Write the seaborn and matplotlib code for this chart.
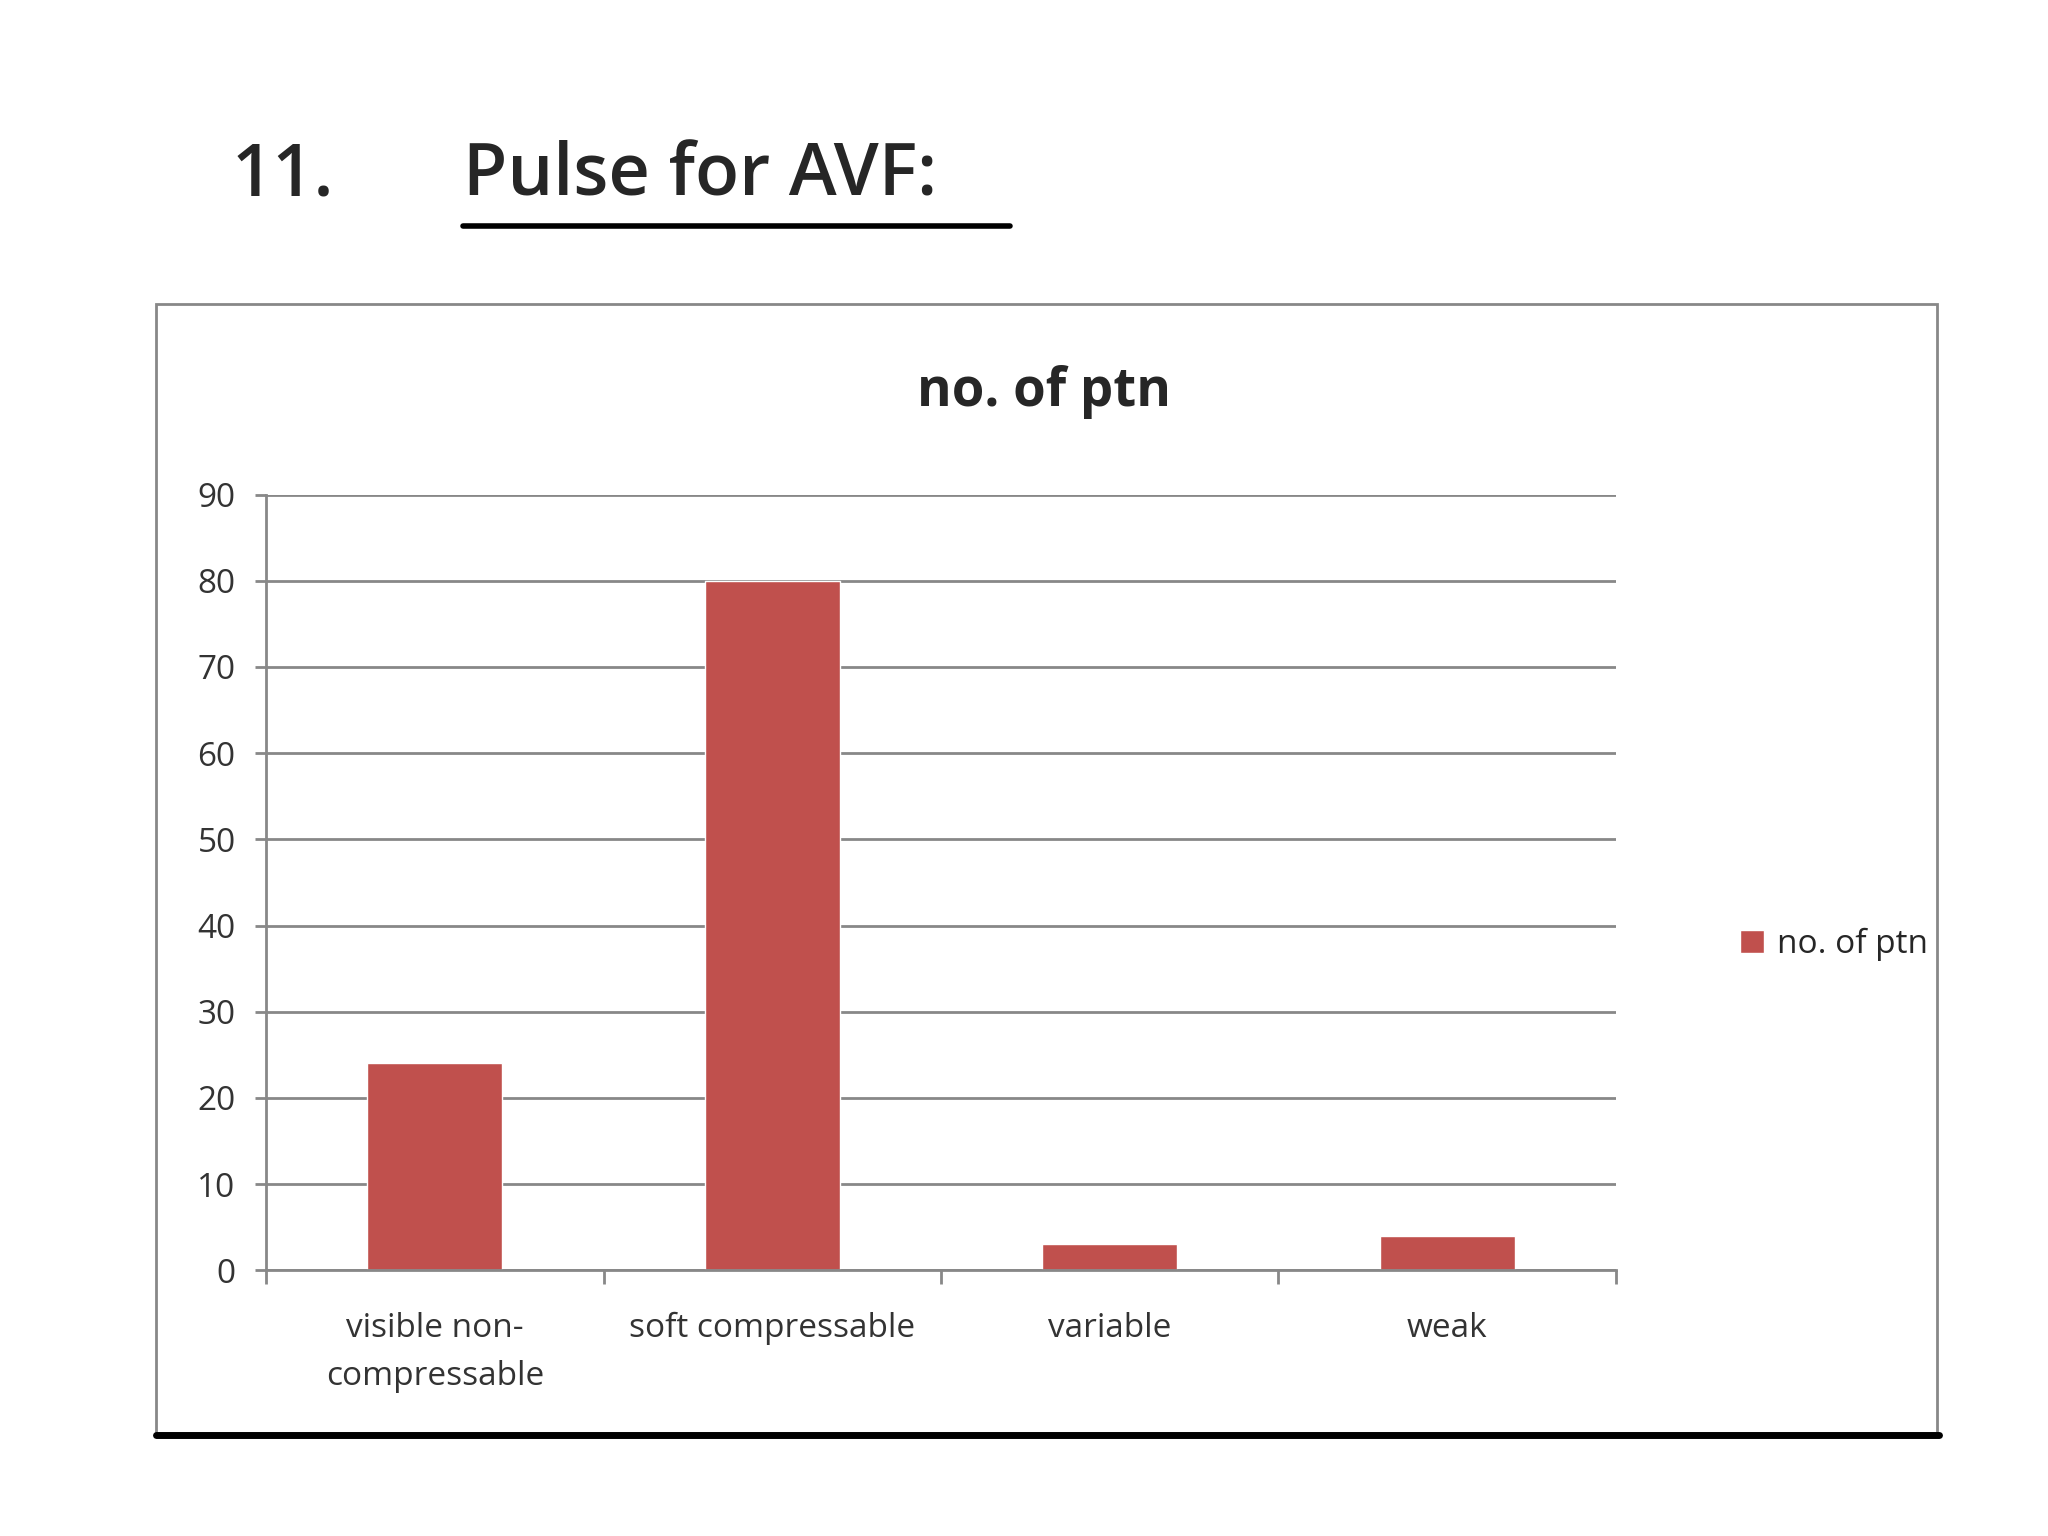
import matplotlib
matplotlib.use("Agg")
import matplotlib.pyplot as plt
import seaborn as sns
import pandas as pd
from matplotlib.patches import Rectangle
from matplotlib.lines import Line2D
from matplotlib.ticker import FixedLocator

categories = ["visible non-\ncompressable", "soft compressable", "variable", "weak"]
values = [24, 80, 3, 4]
series_name = "no. of ptn"

sns.set_theme(style="white")
plt.rcParams['font.family'] = ['Open Sans', 'DejaVu Sans']

fig = plt.figure(figsize=(20.48, 15.36), dpi=100)
fig.patch.set_facecolor("white")

# header
fig.text(0.113, 0.885, "11.", fontsize=52, fontweight="semibold", ha="left", va="center")
fig.text(0.226, 0.885, "Pulse for AVF:", fontsize=52, fontweight="semibold", ha="left", va="center")
fig.add_artist(Line2D([0.226, 0.493], [0.853, 0.853], color="black", lw=4, transform=fig.transFigure))

# chart box
fig.add_artist(Rectangle((0.076, 0.066), 0.870, 0.736, transform=fig.transFigure,
                         fill=False, edgecolor="#888888", lw=2))
fig.add_artist(Line2D([0.076, 0.947], [0.066, 0.066], color="black", lw=5, transform=fig.transFigure))

fig.text(0.51, 0.745, series_name, fontsize=38, fontweight="bold", ha="center", va="center")

ax = fig.add_axes([0.130, 0.173, 0.659, 0.505])
df = pd.DataFrame({"cat": categories, "val": values})
sns.barplot(data=df, x="cat", y="val", color="#C0504D", saturation=1, width=0.4, ax=ax, label=series_name)
ax.set_ylim(0, 90)
ax.set_yticks(range(0, 91, 10))
ax.yaxis.grid(True, color="#888888", lw=2)
ax.set_axisbelow(True)
for s in ["top", "right"]:
    ax.spines[s].set_visible(False)
for s in ["left", "bottom"]:
    ax.spines[s].set_color("#888888")
    ax.spines[s].set_linewidth(2)
ax.set_xlabel("")
ax.set_ylabel("")
ax.tick_params(axis="y", labelsize=24, colors="#333333", pad=14, left=True, length=8, width=2)
ax.tick_params(axis="y", color="#888888")
ax.set_xlim(-0.5, 3.5)
ax.set_xticks([0, 1, 2, 3])
ax.set_xticklabels(categories, linespacing=1.6)
ax.xaxis.set_minor_locator(FixedLocator([-0.5, 0.5, 1.5, 2.5, 3.5]))
ax.tick_params(axis="x", which="major", length=0, labelsize=24, colors="#333333", pad=30)
ax.tick_params(axis="x", which="minor", length=10, width=2, color="#888888", bottom=True)
ax.legend(loc="center left", bbox_to_anchor=(1.07, 0.42), frameon=False, fontsize=24,
          handlelength=0.7, handleheight=0.7, handletextpad=0.4)

fig.savefig("out.png", dpi=100)
